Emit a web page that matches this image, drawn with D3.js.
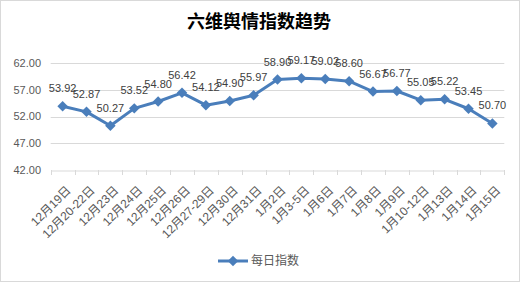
<!DOCTYPE html>
<html>
<head>
<meta charset="utf-8">
<script src="https://cdn.jsdelivr.net/npm/d3@7"></script>
<style>
  body { margin: 0; background: #fff; }
  svg { display: block; font-family: "Liberation Sans", "Noto Sans CJK SC", sans-serif; }
</style>
</head>
<body>
<div id="chart"></div>
<script>
// data
const dates = ["12月19日", "12月20-22日", "12月23日", "12月24日", "12月25日", "12月26日",
    "12月27-29日", "12月30日", "12月31日", "1月2日", "1月3-5日", "1月6日", "1月7日",
    "1月8日", "1月9日", "1月10-12日", "1月13日", "1月14日", "1月15日"];
const dailyIndex = [53.92, 52.87, 50.27, 53.52, 54.80, 56.42, 54.12, 54.90, 55.97,
    58.90, 59.17, 59.02, 58.60, 56.67, 56.77, 55.05, 55.22, 53.45, 50.70];
const yTicks = [42, 47, 52, 57, 62];
const seriesName = "每日指数";
const chartTitle = "六维舆情指数趋势";

const W = 520, H = 283;
const plot = { left: 50.7, right: 504.3, top: 63, bottom: 170 };
const lineColor = "#4a7ebb";

const svg = d3.select("#chart").append("svg")
    .attr("width", W)
    .attr("height", H);

svg.append("rect")
    .attr("x", 0.5).attr("y", 0.5)
    .attr("width", W - 1).attr("height", H - 2)
    .attr("fill", "#fff")
    .attr("stroke", "#d9d9d9");

svg.append("text")
    .attr("x", 259).attr("y", 28)
    .attr("text-anchor", "middle")
    .attr("font-family", "Noto Sans CJK SC")
    .attr("font-size", 18)
    .attr("font-weight", "bold")
    .attr("fill", "#000")
    .text(chartTitle);

const x = d3.scaleBand()
    .domain(dates)
    .range([plot.left, plot.right]);

const y = d3.scaleLinear()
    .domain([42, 62])
    .range([plot.bottom, plot.top]);

// gridlines
svg.append("g")
    .selectAll("line")
    .data(yTicks.slice(1))
    .join("line")
    .attr("x1", plot.left).attr("x2", plot.right)
    .attr("y1", d => Math.round(y(d)) + 0.5).attr("y2", d => Math.round(y(d)) + 0.5)
    .attr("stroke", "#d9d9d9");

// y axis labels
svg.append("g")
    .selectAll("text")
    .data(yTicks)
    .join("text")
    .attr("x", 41)
    .attr("y", d => y(d))
    .attr("dy", "0.35em")
    .attr("text-anchor", "end")
    .attr("font-size", 11)
    .attr("fill", "#595959")
    .text(d => d.toFixed(2));

// x axis
const xAxis = svg.append("g")
    .attr("transform", `translate(0,${Math.round(plot.bottom) + 0.5})`)
    .call(d3.axisBottom(x).tickSize(0).tickFormat(""));
xAxis.select(".domain").attr("stroke", "#d9d9d9");

svg.append("g")
    .selectAll("line")
    .data(dates.concat([null]))
    .join("line")
    .attr("x1", (d, i) => Math.round(plot.left + i * x.step()) + 0.5)
    .attr("x2", (d, i) => Math.round(plot.left + i * x.step()) + 0.5)
    .attr("y1", plot.bottom)
    .attr("y2", plot.bottom + 5)
    .attr("stroke", "#d9d9d9");

svg.append("g")
    .selectAll("text")
    .data(dates)
    .join("text")
    .attr("transform", d => `translate(${x(d) + x.bandwidth() / 2 + 6},${plot.bottom + 18}) rotate(-45)`)
    .attr("text-anchor", "end")
    .attr("dy", "0.35em")
    .attr("font-size", 12)
    .attr("fill", "#595959")
    .text(d => d);

// series line
const cx = d => x(d) + x.bandwidth() / 2;
const line = d3.line()
    .x((d, i) => cx(dates[i]))
    .y(d => y(d));

svg.append("path")
    .datum(dailyIndex)
    .attr("d", line)
    .attr("fill", "none")
    .attr("stroke", lineColor)
    .attr("stroke-width", 3)
    .attr("stroke-linejoin", "round");

const diamond = d3.symbol().type(d3.symbolDiamond2).size(70);

svg.append("g")
    .selectAll("path")
    .data(dailyIndex)
    .join("path")
    .attr("transform", (d, i) => `translate(${cx(dates[i])},${y(d)})`)
    .attr("d", diamond)
    .attr("fill", lineColor);

// data labels
svg.append("g")
    .selectAll("text")
    .data(dailyIndex)
    .join("text")
    .attr("x", (d, i) => cx(dates[i]))
    .attr("y", d => y(d) - 14)
    .attr("text-anchor", "middle")
    .attr("font-size", 11)
    .attr("fill", "#404040")
    .text(d => d.toFixed(2));

// legend
const legend = svg.append("g").attr("transform", "translate(218,261)");
legend.append("line")
    .attr("x1", 0).attr("x2", 30)
    .attr("stroke", lineColor)
    .attr("stroke-width", 3);
legend.append("path")
    .attr("transform", "translate(15,0)")
    .attr("d", diamond)
    .attr("fill", lineColor);
legend.append("text")
    .attr("x", 33).attr("dy", "0.35em")
    .attr("font-family", "Noto Sans CJK SC")
    .attr("font-size", 12)
    .attr("fill", "#595959")
    .text(seriesName);
</script>
</body>
</html>
